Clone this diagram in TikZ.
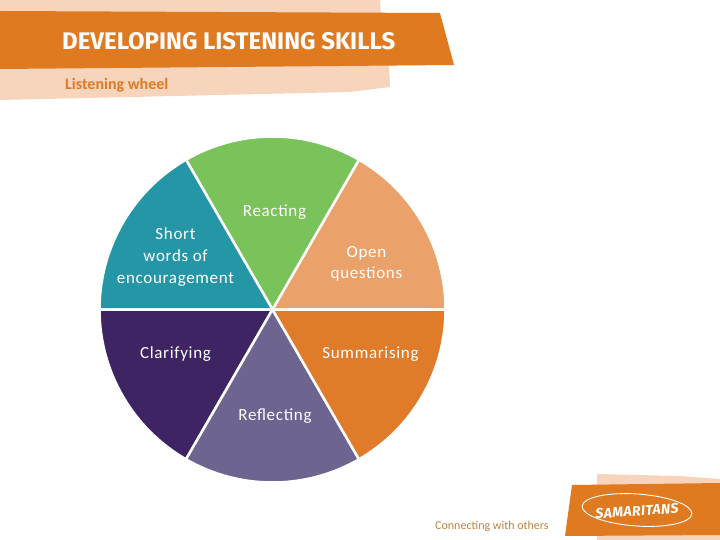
\documentclass[tikz,border=0pt]{standalone}
\usepackage{fontspec}
\setmainfont{Carlito}
\newfontfamily\titlefont{Fira Sans}
\newfontfamily\wheelfont[LetterSpace=4]{Carlito}
\newfontfamily\logofont[LetterSpace=3]{Fira Sans}
\definecolor{bandorange}{HTML}{E07A20}
\definecolor{bandpeach}{HTML}{F6D5BC}
\definecolor{wheelteal}{HTML}{2596A6}
\definecolor{wheelgreen}{HTML}{7AC25A}
\definecolor{wheelpeach}{HTML}{EAA26A}
\definecolor{wheelorange}{HTML}{E07B2A}
\definecolor{wheelmauve}{HTML}{6D6490}
\definecolor{wheelpurple}{HTML}{3F2463}
\definecolor{footbrown}{HTML}{B9853F}
\tikzset{
	wheeltext/.style={text=white,align=center,font=\wheelfont\fontsize{17}{22}\selectfont,inner sep=0pt},
	titletext/.style={text=white,anchor=west,inner sep=0pt,font=\titlefont\bfseries\fontsize{24}{26}\selectfont},
}
\begin{document}
\begin{tikzpicture}[x=1pt,y=-1pt]
	\useasboundingbox (0,0) rectangle (720,540);

	% Draw the header bands
	\fill[bandpeach] (0,0) -- (380,0) -- (381,16) -- (0,16) -- cycle;
	\fill[bandpeach] (0,65) -- (389,65) -- (390,87) -- (350,92) -- (0,100) -- cycle;
	\fill[bandorange] (0,11) -- (440,13) -- (454,65) -- (0,69) -- cycle;
	\node [titletext] (title) at (62,41) {DEVELOPING LISTENING SKILLS};
	\node [anchor=west,inner sep=0pt,text=bandorange,font=\bfseries\fontsize{16}{18}\selectfont] (sub) at (65,85.5) {Listening wheel};

	% Draw the wheel
	\coordinate (hub) at (272.5,309.5);
	\foreach \start/\tone in {0/wheelpeach,60/wheelgreen,120/wheelteal,180/wheelpurple,240/wheelmauve,300/wheelorange}
		\filldraw[fill=\tone,draw=white,line width=2.5pt,line join=round] (hub) -- ++(-\start:173) arc[start angle=-\start,end angle=-\start-60,radius=173] -- cycle;

	\node [wheeltext] (reacting) at (274.5,212.5) {Reacting};
	\node [wheeltext] (short) at (175.5,257.5) {Short\\words of\\encouragement};
	\node [wheeltext,font=\wheelfont\fontsize{17}{21}\selectfont] (open) at (366.5,264) {Open\\questions};
	\node [wheeltext] (clarifying) at (175.5,354.5) {Clarifying};
	\node [wheeltext] (summarising) at (370.5,354.5) {Summarising};
	\node [wheeltext] (reflecting) at (275,416.5) {Reflecting};

	% Draw the logo corner
	\fill[bandpeach] (597,474) -- (680,476) -- (720,479) -- (720,540) -- (597,540) -- cycle;
	\fill[bandorange] (572,485) -- (720,483) -- (720,535) -- (565,536) -- cycle;
	\draw[white,line width=0.9pt,rotate around={-4:(637,510)}] (637,510) ellipse[x radius=55,y radius=16];
	\node [text=white,rotate=4,inner sep=0pt,font=\logofont\bfseries\itshape\fontsize{14}{16}\selectfont] (logo) at (637,511) {SAMARITANS};
	\node [anchor=west,inner sep=0pt,text=footbrown,font=\fontsize{12}{14}\selectfont] (motto) at (435,526) {Connecting with others};
\end{tikzpicture}
\end{document}
